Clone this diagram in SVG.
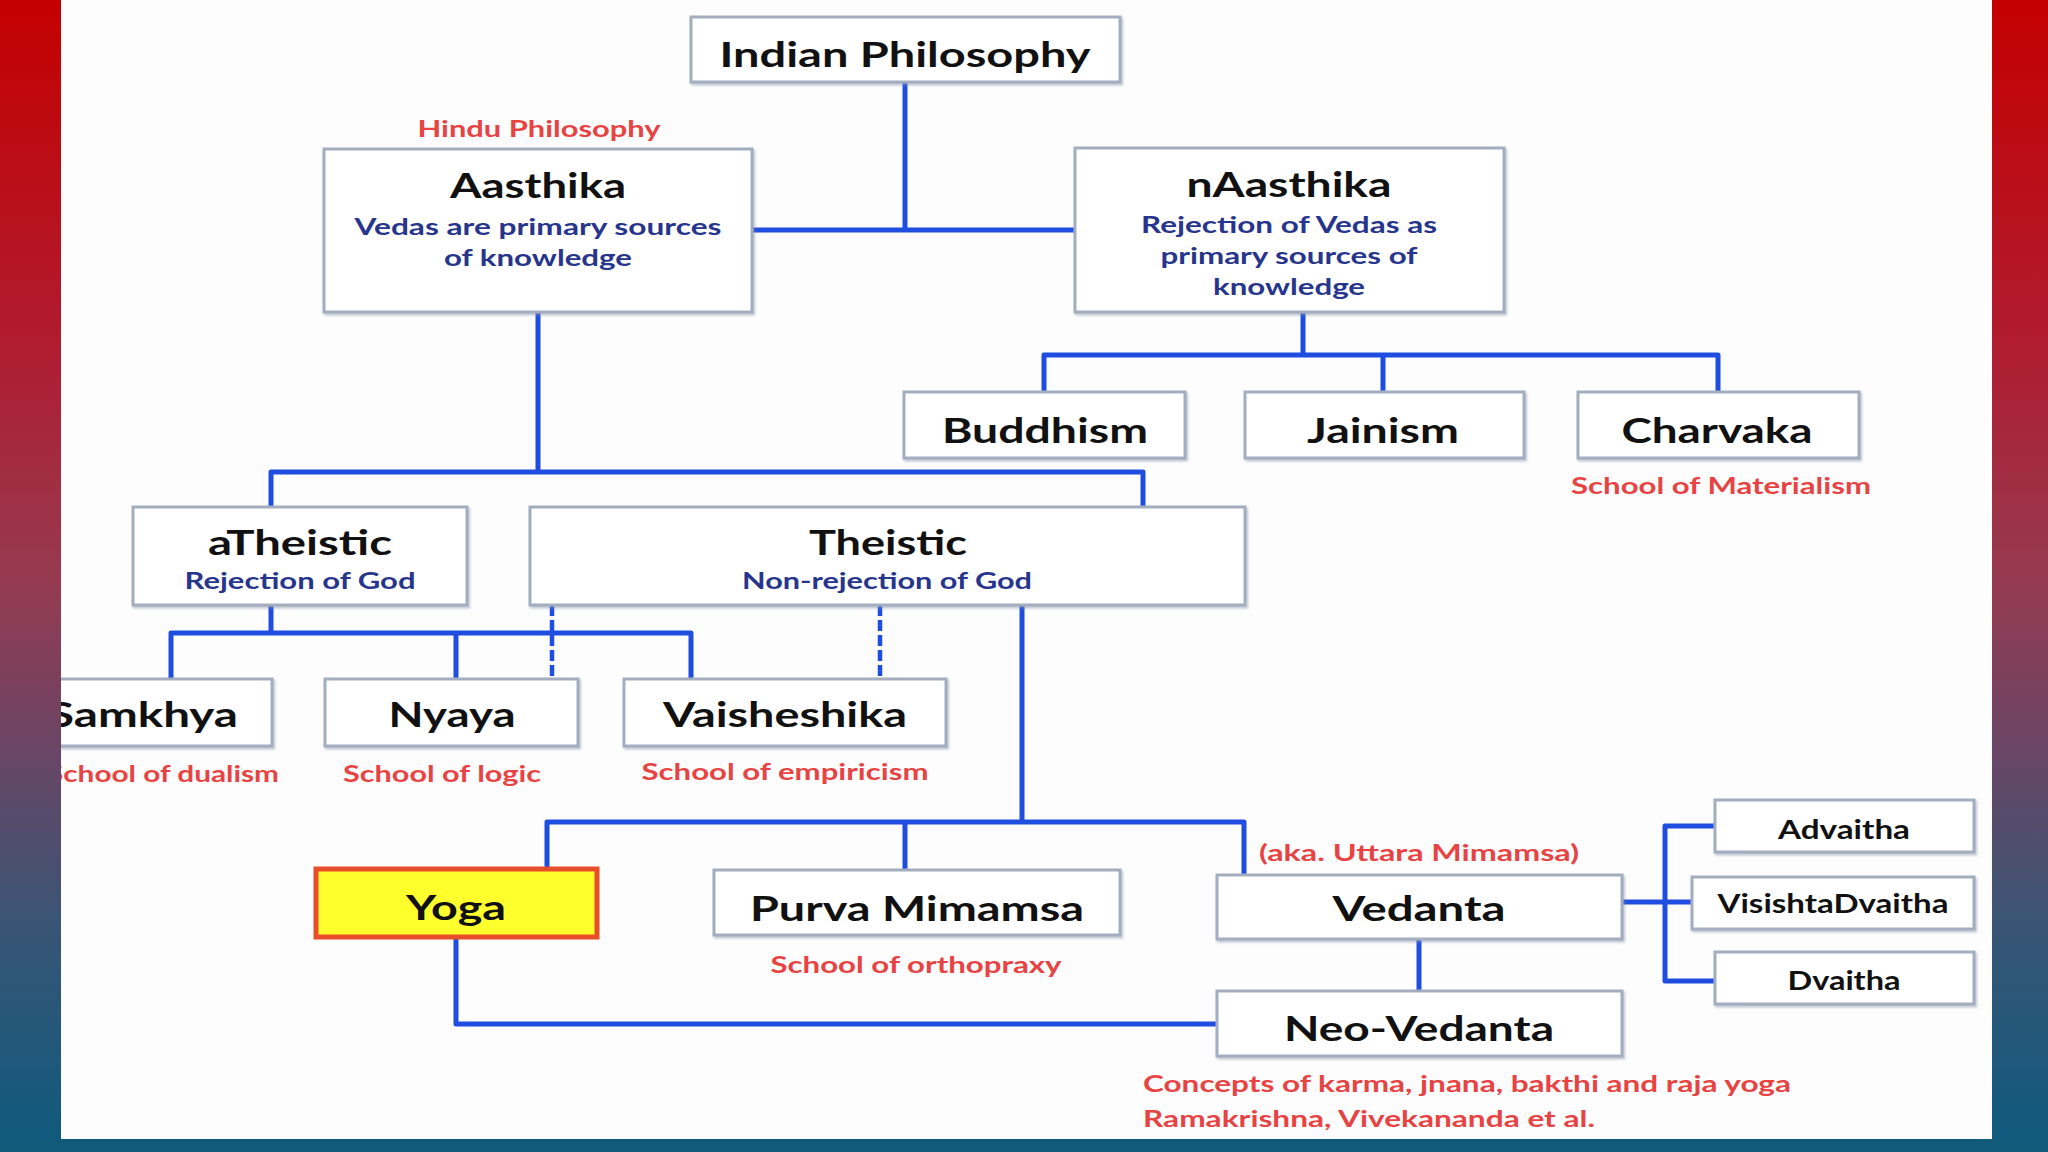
<svg xmlns="http://www.w3.org/2000/svg" width="2048" height="1152" viewBox="0 0 2048 1152">
<defs>
<linearGradient id="bg" x1="0" y1="0" x2="0" y2="1">
<stop offset="0" stop-color="#c40000"/>
<stop offset="0.3" stop-color="#b01c30"/>
<stop offset="0.5" stop-color="#963a50"/>
<stop offset="0.65" stop-color="#6a4565"/>
<stop offset="0.8" stop-color="#3a5575"/>
<stop offset="1" stop-color="#0d5a7d"/>
</linearGradient>
<filter id="sh" x="-5%" y="-5%" width="110%" height="120%">
<feDropShadow dx="1.5" dy="2" stdDeviation="1" flood-color="#8090a8" flood-opacity="0.5"/>
</filter>
</defs>
<style>
.box{fill:#fff;stroke:#a3adc0;stroke-width:3;filter:url(#sh)}
.yoga{fill:#ffff2e;stroke:#e84e2a;stroke-width:5}
.t{font-family:Lato,"Liberation Sans",sans-serif;font-weight:700;text-anchor:middle}
.big{font-size:35px;fill:#111}
.sub{font-size:22px;fill:#27358c}
.red{font-size:22px;fill:#e84343}
.sm{font-size:26px;fill:#111}
.ln{fill:none;stroke:#1f4de0;stroke-width:5;stroke-linejoin:round}
.dash{fill:none;stroke:#1f4de0;stroke-width:4.5;stroke-dasharray:11 4}
</style>
<rect x="0" y="0" width="2048" height="1152" fill="#fdfdfd"/>
<g id="connectors">
<path class="ln" d="M905 82 V230 M752 230 H1075"/>
<path class="ln" d="M538 312 V472 M271 507 V472 H1143 V507"/>
<path class="ln" d="M1303 312 V355 M1044 392 V355 H1718 V392 M1383 355 V392"/>
<path class="ln" d="M271 605 V633 M171 679 V633 H691 V679 M456 633 V679"/>
<path class="dash" d="M552 605 V679 M880 605 V679"/>
<path class="ln" d="M1022 605 V822 M547 869 V822 H1244 V875 M905 822 V870"/>
<path class="ln" d="M456 937 V1024 H1217"/>
<path class="ln" d="M1419 939 V991"/>
<path class="ln" d="M1622 902 H1692 M1715 826 H1665 V981 H1715"/>
</g>
<g id="indian-philosophy">
<rect class="box" x="691" y="17" width="429" height="65"/>
<text class="t big" x="905" y="67" textLength="371" lengthAdjust="spacingAndGlyphs">Indian Philosophy</text>
</g>
<g id="aasthika">
<text class="t red" x="539" y="137" textLength="243" lengthAdjust="spacingAndGlyphs">Hindu Philosophy</text>
<rect class="box" x="324" y="149" width="428" height="163"/>
<text class="t big" x="538" y="198" textLength="176" lengthAdjust="spacingAndGlyphs">Aasthika</text>
<text class="t sub" x="538" y="235" textLength="367" lengthAdjust="spacingAndGlyphs">Vedas are primary sources</text>
<text class="t sub" x="538" y="266" textLength="188" lengthAdjust="spacingAndGlyphs">of knowledge</text>
</g>
<g id="naasthika">
<rect class="box" x="1075" y="148" width="429" height="164"/>
<text class="t big" x="1289" y="197" textLength="205" lengthAdjust="spacingAndGlyphs">nAasthika</text>
<text class="t sub" x="1289" y="233" textLength="296" lengthAdjust="spacingAndGlyphs">Rejection of Vedas as</text>
<text class="t sub" x="1289" y="264" textLength="257" lengthAdjust="spacingAndGlyphs">primary sources of</text>
<text class="t sub" x="1289" y="295" textLength="152" lengthAdjust="spacingAndGlyphs">knowledge</text>
</g>
<g id="buddhism">
<rect class="box" x="904" y="392" width="281" height="66"/>
<text class="t big" x="1045" y="443" textLength="206" lengthAdjust="spacingAndGlyphs">Buddhism</text>
</g>
<g id="jainism">
<rect class="box" x="1245" y="392" width="279" height="66"/>
<text class="t big" x="1383" y="443" textLength="152" lengthAdjust="spacingAndGlyphs">Jainism</text>
</g>
<g id="charvaka">
<rect class="box" x="1578" y="392" width="281" height="66"/>
<text class="t big" x="1717" y="443" textLength="191" lengthAdjust="spacingAndGlyphs">Charvaka</text>
<text class="t red" x="1721" y="494" textLength="300" lengthAdjust="spacingAndGlyphs">School of Materialism</text>
</g>
<g id="atheistic">
<rect class="box" x="133" y="507" width="334" height="98"/>
<text class="t big" x="300" y="555" textLength="184" lengthAdjust="spacingAndGlyphs">aTheistic</text>
<text class="t sub" x="300" y="589" textLength="231" lengthAdjust="spacingAndGlyphs">Rejection of God</text>
</g>
<g id="theistic">
<rect class="box" x="530" y="507" width="715" height="98"/>
<text class="t big" x="888" y="555" textLength="158" lengthAdjust="spacingAndGlyphs">Theistic</text>
<text class="t sub" x="887" y="589" textLength="290" lengthAdjust="spacingAndGlyphs">Non-rejection of God</text>
</g>
<g id="samkhya">
<rect class="box" x="30" y="679" width="242" height="67"/>
<text class="t big" x="238" y="727" style="text-anchor:end" textLength="190" lengthAdjust="spacingAndGlyphs">Samkhya</text>
<text class="t red" x="279" y="782" style="text-anchor:end" textLength="232" lengthAdjust="spacingAndGlyphs">School of dualism</text>
</g>
<g id="nyaya">
<rect class="box" x="325" y="679" width="253" height="67"/>
<text class="t big" x="452" y="727" textLength="127" lengthAdjust="spacingAndGlyphs">Nyaya</text>
<text class="t red" x="442" y="782" textLength="198" lengthAdjust="spacingAndGlyphs">School of logic</text>
</g>
<g id="vaisheshika">
<rect class="box" x="624" y="679" width="322" height="67"/>
<text class="t big" x="785" y="727" textLength="244" lengthAdjust="spacingAndGlyphs">Vaisheshika</text>
<text class="t red" x="785" y="780" textLength="287" lengthAdjust="spacingAndGlyphs">School of empiricism</text>
</g>
<g id="yoga">
<rect class="yoga" x="316" y="869" width="281" height="68"/>
<text class="t big" x="456" y="920" textLength="100" lengthAdjust="spacingAndGlyphs">Yoga</text>
</g>
<g id="purva-mimamsa">
<rect class="box" x="714" y="870" width="406" height="65"/>
<text class="t big" x="917" y="921" textLength="334" lengthAdjust="spacingAndGlyphs">Purva Mimamsa</text>
<text class="t red" x="916" y="973" textLength="291" lengthAdjust="spacingAndGlyphs">School of orthopraxy</text>
</g>
<g id="vedanta">
<text class="t red" x="1419" y="861" textLength="320" lengthAdjust="spacingAndGlyphs">(aka. Uttara Mimamsa)</text>
<rect class="box" x="1217" y="875" width="405" height="64"/>
<text class="t big" x="1419" y="921" textLength="173" lengthAdjust="spacingAndGlyphs">Vedanta</text>
</g>
<g id="neo-vedanta">
<rect class="box" x="1217" y="991" width="405" height="65"/>
<text class="t big" x="1419" y="1041" textLength="270" lengthAdjust="spacingAndGlyphs">Neo-Vedanta</text>
<text class="t red" x="1143" y="1092" style="text-anchor:start" textLength="648" lengthAdjust="spacingAndGlyphs">Concepts of karma, jnana, bakthi and raja yoga</text>
<text class="t red" x="1143" y="1127" style="text-anchor:start" textLength="452" lengthAdjust="spacingAndGlyphs">Ramakrishna, Vivekananda et al.</text>
</g>
<g id="advaitha">
<rect class="box" x="1715" y="800" width="259" height="52"/>
<text class="t sm" x="1844" y="839" textLength="132" lengthAdjust="spacingAndGlyphs">Advaitha</text>
</g>
<g id="visishtadvaitha">
<rect class="box" x="1692" y="877" width="282" height="52"/>
<text class="t sm" x="1833" y="913" textLength="231" lengthAdjust="spacingAndGlyphs">VisishtaDvaitha</text>
</g>
<g id="dvaitha">
<rect class="box" x="1715" y="952" width="259" height="52"/>
<text class="t sm" x="1844" y="990" textLength="113" lengthAdjust="spacingAndGlyphs">Dvaitha</text>
</g>
<g id="frame">
<rect x="0" y="0" width="61" height="1152" fill="url(#bg)"/>
<rect x="1992" y="0" width="56" height="1152" fill="url(#bg)"/>
<rect x="0" y="1139" width="2048" height="13" fill="#115a7a"/>
</g>
</svg>
